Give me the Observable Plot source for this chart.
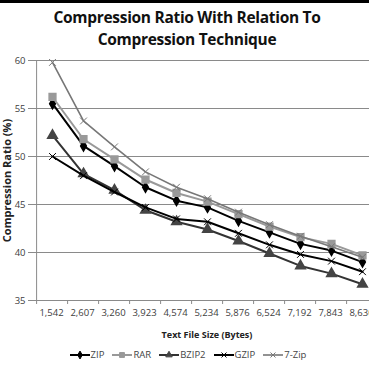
<!DOCTYPE html>
<html><head><meta charset="utf-8">
<script src="https://cdn.jsdelivr.net/npm/d3@7"></script>
<script src="https://cdn.jsdelivr.net/npm/@observablehq/plot@0.6"></script>
<style>
body{margin:0;background:#fff;width:369px;height:369px;overflow:hidden;position:relative;font-family:"Open Sans",sans-serif;}
#bar{position:absolute;left:0;top:0;width:369px;height:3px;background:#000;}
#title{position:absolute;left:0;top:6px;width:374px;text-align:center;font-family:"Open Sans",sans-serif;font-weight:bold;font-size:15.5px;line-height:22px;color:#111;letter-spacing:-0.3px;}
#chart{position:absolute;left:0;top:52px;width:369px;height:293px;overflow:hidden;}
#chart svg{max-width:none !important;}
#legend{position:absolute;left:0;top:348px;width:376px;display:flex;justify-content:center;gap:8px;font-size:9.5px;color:#444;}
#legend span{display:inline-flex;align-items:center;}
</style></head><body>
<div id="bar"></div>
<div id="title">Compression Ratio With Relation To<br>Compression Technique</div>
<div id="chart"></div>
<div id="legend"></div>
<script>
const sizes = ["1,542","2,607","3,260","3,923","4,574","5,234","5,876","6,524","7,192","7,843","8,630"];
const zip   = [55.5, 51.1, 49.0, 46.8, 45.4, 44.7, 43.3, 42.1, 40.9, 40.2, 39.0];
const rar   = [56.2, 51.8, 49.7, 47.6, 46.2, 45.3, 44.0, 42.7, 41.6, 40.9, 39.7];
const bzip2 = [52.2, 48.2, 46.5, 44.4, 43.2, 42.4, 41.2, 39.9, 38.6, 37.8, 36.7];
const gzip  = [50.0, 48.0, 46.3, 44.7, 43.5, 43.2, 42.0, 40.8, 39.8, 39.1, 38.0];
const sevenZip = [59.8, 53.7, 51.0, 48.4, 46.8, 45.6, 44.2, 42.9, 41.7, 40.6, 39.5];
const yTicks = [35, 40, 45, 50, 55, 60];

const seriesDefs = [
  {name:"ZIP", values:zip, stroke:"#000", sw:2, symbol:"diamond", fill:"#000", r:3},
  {name:"RAR", values:rar, stroke:"#999", sw:2, symbol:"square", fill:"#999", r:3.8},
  {name:"BZIP2", values:bzip2, stroke:"#333", sw:2, symbol:"triangle", fill:"#444", r:3.6},
  {name:"GZIP", values:gzip, stroke:"#000", sw:2, symbol:"times", fill:"none", r:3.2},
  {name:"7-Zip", values:sevenZip, stroke:"#777", sw:1.6, symbol:"times", fill:"none", r:3.2}
];

const marks = [
  Plot.gridY(yTicks, {stroke:"#8a8a8a", strokeOpacity:1, strokeWidth:1}),
  Plot.ruleY([35], {stroke:"#8a8a8a"}),
  Plot.ruleX([sizes[0]], {dx:-15.9, stroke:"#8a8a8a"}),
  Plot.axisY(yTicks, {tickSize:4, tickPadding:3, fontSize:9.5, color:"#404040", stroke:"#8a8a8a",
    label:"Compression Ratio (%)", labelAnchor:"center", labelArrow:"none", labelOffset:29}),
  Plot.axisX({tickSize:4, dx:-15.9, stroke:"#8a8a8a", tickFormat:() => "", label:null}),
  Plot.axisX({tickSize:0, tickPadding:9, fontSize:9.5, color:"#404040", label:null, dx:-1}),
  Plot.axisX({tickSize:0, ticks:[], label:"Text File Size (Bytes)", labelAnchor:"center", labelArrow:"none", labelOffset:37})
];
for (const s of seriesDefs) {
  const data = sizes.map((x, i) => ({x, y: s.values[i]}));
  marks.push(Plot.line(data, {x:"x", y:"y", stroke:s.stroke, strokeWidth:s.sw}));
  if (s.fill === "none") {
    marks.push(Plot.dot(data, {x:"x", y:"y", symbol:s.symbol, stroke:s.stroke, strokeWidth:1, r:s.r}));
  } else {
    marks.push(Plot.dot(data, {x:"x", y:"y", symbol:s.symbol, fill:s.fill, stroke:s.fill, r:s.r}));
  }
}

const chart = Plot.plot({
  width:384, height:293,
  marginLeft:32, marginRight:3, marginTop:8, marginBottom:45,
  style:{fontFamily:"Open Sans, sans-serif", fontSize:"9.5px", overflow:"visible", maxWidth:"none"},
  x:{type:"point", domain:sizes, padding:0.5},
  y:{domain:[35,60]},
  marks
});
chart.style.maxWidth = "none";
chart.style.width = "384px";
chart.style.height = "293px";
document.getElementById("chart").appendChild(chart);
chart.querySelectorAll("g[aria-label='x-axis label'] text").forEach(t => {
  t.setAttribute("font-weight","bold"); t.setAttribute("fill","#222"); t.setAttribute("font-size","9px");
});
chart.querySelectorAll("g[aria-label='y-axis label'] text").forEach(t => {
  t.setAttribute("font-weight","bold"); t.setAttribute("fill","#222"); t.setAttribute("font-size","11px");
});

const legend = document.getElementById("legend");
for (const s of seriesDefs) {
  const sp = document.createElement("span");
  const sym = {diamond:d3.symbolDiamond, square:d3.symbolSquare, triangle:d3.symbolTriangle, times:d3.symbolTimes}[s.symbol];
  const path = d3.symbol(sym, s.symbol === "square" ? 24 : 18)();
  sp.innerHTML = `<svg width="20" height="10" style="margin-right:1px"><line x1="0" x2="20" y1="5" y2="5" stroke="${s.stroke}" stroke-width="${s.sw}"/><path transform="translate(10,5)" d="${path}" fill="${s.fill}" stroke="${s.fill === 'none' ? s.stroke : s.fill}" stroke-width="1"/></svg>${s.name}`;
  legend.appendChild(sp);
}
</script>
</body></html>
